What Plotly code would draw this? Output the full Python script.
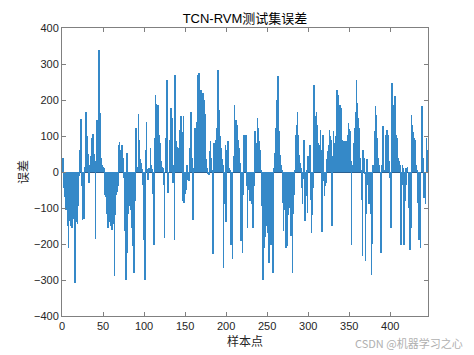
import plotly.graph_objects as go

# error values per test sample
errors = [
    38, -45, -55, -70, -105, -95, -150, -211, -137, -120,
    -150, -155, -110, -130, -185, -308, -140, -120, -145, -95,
    -10, 62, 148, -40, -132, -60, -130, 15, 168, 122,
    100, 50, -30, 20, 45, 95, 80, 105, 50, 30,
    -185, 20, 145, 100, 340, 165, 45, 40, 20, 15,
    10, -63, -70, -118, -100, -155, -140, -120, -150, -128,
    -160, -145, -125, -290, -120, -63, -55, -40, 76, 82,
    60, 45, 75, 40, -17, -30, -165, -300, 53, -225,
    -118, -95, -90, -105, -155, -206, -150, -280, -80, 122,
    53, 15, 161, 90, 35, 25, 10, 8, -35, -188,
    -300, 60, 139, 8, -21, 10, 5, 67, 20, 8,
    -60, -202, 95, 215, 190, 178, 187, 104, 100, 80,
    30, 15, 10, -35, -183, 40, 95, 256, -58, -35,
    90, 120, 178, 150, -30, 20, -188, 270, 85, 70,
    67, 60, 95, 118, 155, 110, -81, 155, -86, -60,
    -49, 20, -21, -15, -26, 67, 168, 80, 40, -132,
    10, 122, 90, 140, 120, 270, 275, 229, 220, 229,
    215, 220, 201, 160, 95, 35, 10, -5, -8, 57,
    85, 40, 5, -228, 80, 80, 70, 90, 122, 284,
    173, 131, 100, 67, 35, 20, -267, -90, 76, -139,
    62, 85, 35, 10, 5, -202, -100, -243, 45, 187,
    62, 145, 131, 118, 90, 67, 25, -192, -120, -225,
    -63, 104, 80, 104, -40, -155, -35, -49, -81, -60,
    -90, -114, -155, -40, 113, 48, 80, 150, 122, 85,
    60, 35, 5, -95, -299, -155, -211, -180, -151, -128,
    -170, -253, -137, -123, -202, -150, -281, 11, 53, 48,
    122, 200, 266, 187, 113, 48, 20, 5, -86, -165,
    -63, -105, -211, -206, -137, -120, -100, -81, -179, -150,
    -281, -118, -63, 5, 104, 130, 168, 104, 48, 25,
    10, -44, -90, -20, 90, -137, -68, 5, -114, 45,
    30, 76, -77, -170, -120, -44, 243, 155, 99, 168,
    130, 80, 76, 39, 118, 60, -167, 104, -26, -68,
    -40, -30, 35, 57, 76, 118, 100, 90, -151, 45,
    113, 80, 30, 99, 229, 215, 190, 140, 187, 178,
    90, 57, 35, 85, 70, 85, 48, 104, 136, 120,
    113, 30, -202, 20, 80, 60, 122, 168, 256, 191,
    150, 122, 39, 5, -77, -234, 62, 40, -5, -248,
    -118, 35, -35, -90, -80, -118, -285, -200, 20, 20,
    113, 182, 159, 95, 39, 20, 10, -137, -225, 20,
    127, 76, 5, 104, 90, 118, 104, 53, 30, -17,
    -155, 247, 187, 140, 122, 210, 104, 95, 62, 39,
    30, 20, -202, -35, 20, 10, -202, -81, 10, -35,
    15, -63, -100, -216, -155, 159, 131, 110, 95, 90,
    48, 20, 5, -86, -188, -150, -211, 40, 182, 40,
    -72, -60, -90, 95, 60,
]
sample_idx = list(range(1, len(errors) + 1))

x_ticks = [0, 50, 100, 150, 200, 250, 300, 350, 400]
y_ticks = [-400, -300, -200, -100, 0, 100, 200, 300, 400]

title_text = "TCN-RVM测试集误差"
x_label = "样本点"
y_label = "误差"
watermark = "CSDN @机器学习之心"

font_main = "Liberation Sans, Arial, Noto Sans CJK SC, sans-serif"
font_cjk = "Noto Sans CJK SC, sans-serif"
axis_col = "#808080"

# the page body has an 8px margin, so the figure is sized/offset to fit
W, H = 466, 347
L, R, T, B = 54, 46, 20, 39
PW, PH = W - L - R, H - T - B

fig = go.Figure(go.Bar(
    x=sample_idx, y=errors, width=0.75,
    marker=dict(color="#3589c8", line=dict(width=0)),
))

fig.update_layout(
    width=W, height=H,
    margin=dict(l=L, r=R, t=T, b=B, autoexpand=False),
    paper_bgcolor="white", plot_bgcolor="white",
    showlegend=False,
    title=dict(text=title_text, x=0.5, xref="paper", xanchor="center",
               y=1 - 10 / H, yref="container", yanchor="middle",
               font=dict(family=font_main, size=13, color="#000000")),
    font=dict(family=font_main, size=11, color="#262626"),
    bargap=0,
)
fig.update_xaxes(
    range=[0, 446], tickvals=x_ticks, ticks="inside", ticklen=4,
    tickcolor=axis_col, showline=True, linecolor=axis_col, linewidth=1,
    mirror="allticks", showgrid=False, zeroline=False,
    tickfont=dict(family=font_main, size=11, color="#262626"),
    title=dict(text=x_label, standoff=4,
               font=dict(family=font_cjk, size=12, color="#262626")),
)
fig.update_yaxes(
    range=[-400, 400], tickvals=y_ticks, ticks="inside", ticklen=4,
    tickcolor=axis_col, showline=True, linecolor=axis_col, linewidth=1,
    mirror="allticks", showgrid=False,
    zeroline=True, zerolinecolor="#2a5f8f", zerolinewidth=1,
    tickfont=dict(family=font_main, size=11, color="#262626"),
)
# y-axis label placed as rotated text
fig.add_annotation(
    text=y_label, xref="paper", yref="paper",
    x=(14 - L) / PW, y=0.5, xanchor="center", yanchor="middle",
    textangle=-90, showarrow=False,
    font=dict(family=font_cjk, size=12, color="#262626"),
)
fig.add_annotation(
    text=watermark, xref="paper", yref="paper",
    x=(457 - L) / PW, y=-(335 - (T + PH)) / PH,
    xanchor="right", yanchor="middle", showarrow=False,
    font=dict(family=font_cjk, size=11, color="#b0b0b0"),
)

fig.write_html("out.html")
